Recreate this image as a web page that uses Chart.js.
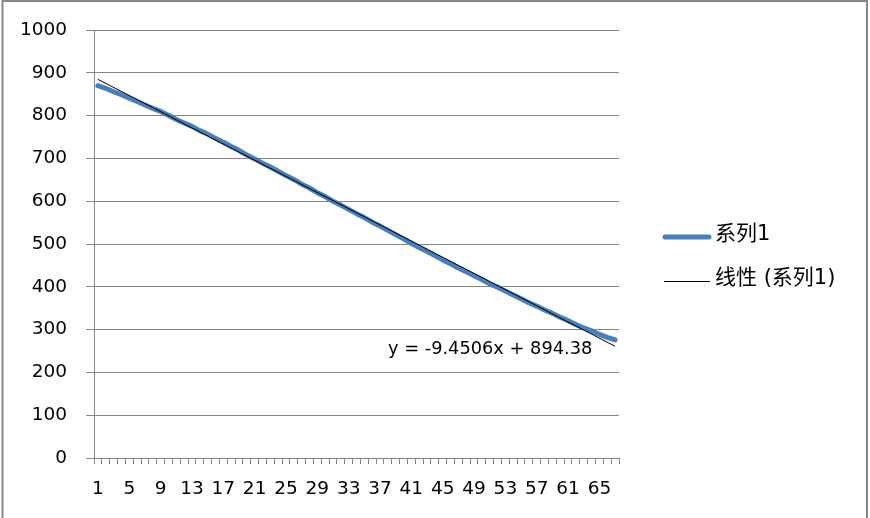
<!DOCTYPE html>
<html>
<head>
<meta charset="utf-8">
<script src="https://cdn.jsdelivr.net/npm/chart.js@4/dist/chart.umd.min.js"></script>
<style>
html,body{margin:0;padding:0;background:#fff;}
#wrap{width:870px;height:518px;position:relative;}
</style>
</head>
<body>
<div id="wrap"><canvas id="c" width="870" height="518"></canvas></div>
<script>
// Categories 1..67
const categories = ["1","2","3","4","5","6","7","8","9","10","11","12","13","14","15","16","17","18","19","20",
"21","22","23","24","25","26","27","28","29","30","31","32","33","34","35","36","37","38","39","40",
"41","42","43","44","45","46","47","48","49","50","51","52","53","54","55","56","57","58","59","60",
"61","62","63","64","65","66","67"];
// 系列1 values
const series1 = [870,864,856,849,841,833,825,817,810,801,
791,783,775,765,757,747,738,728,719,708,
699,689,680,670,660,651,640,631,620,611,
600,591,581,571,562,551,542,532,522,512,
502,492,483,473,463,454,444,435,426,417,
407,399,390,381,372,363,355,346,338,329,
321,312,304,297,289,282,276];
// Linear trendline end values (y = -9.4506x + 894.38 at x=1 and x=67)
const trendX = ["1","67"];
const trendY = [884.93, 261.19];
const yTicks = [0,100,200,300,400,500,600,700,800,900,1000];
const seriesName = "系列1";
const trendName = "线性 (系列1)";
const equationText = "y = -9.4506x + 894.38";

const FONT = "'DejaVu Sans', 'Noto Sans CJK SC', sans-serif";
const GRID = "#868686";
const BLUE = "#4A7EBB";

const overlay = {
  id: "overlay",
  beforeDraw(chart) {
    const ctx = chart.ctx;
    ctx.save();
    ctx.fillStyle = "#fff";
    ctx.fillRect(0, 0, chart.width, chart.height);
    ctx.restore();
  },
  afterDraw(chart) {
    const ctx = chart.ctx;
    ctx.save();
    // frame
    ctx.strokeStyle = GRID;
    ctx.lineWidth = 2;
    ctx.beginPath();
    ctx.moveTo(2.5, 518); ctx.lineTo(2.5, 1); ctx.lineTo(867, 1); ctx.lineTo(867, 518);
    ctx.stroke();
    // legend
    ctx.lineCap = "round";
    ctx.strokeStyle = BLUE; ctx.lineWidth = 5;
    ctx.beginPath(); ctx.moveTo(665, 237); ctx.lineTo(709, 237); ctx.stroke();
    ctx.lineCap = "butt";
    ctx.strokeStyle = "#000"; ctx.lineWidth = 1;
    ctx.beginPath(); ctx.moveTo(664, 281.5); ctx.lineTo(710, 281.5); ctx.stroke();
    ctx.fillStyle = "#000";
    ctx.font = "21px " + FONT;
    ctx.textBaseline = "middle";
    ctx.textAlign = "left";
    ctx.fillText(seriesName, 715, 235);
    ctx.fillText(trendName, 715, 279);
    // equation
    ctx.font = "17.8px " + FONT;
    ctx.fillText(equationText, 388, 349);
    ctx.restore();
  }
};

new Chart(document.getElementById("c"), {
  type: "line",
  data: {
    labels: categories,
    datasets: [
      {
        label: trendName,
        data: trendX.map((x, i) => ({x: x, y: trendY[i]})),
        borderColor: "#000",
        borderWidth: 1,
        pointRadius: 0,
        tension: 0,
        order: 0
      },
      {
        label: seriesName,
        data: series1,
        borderColor: BLUE,
        borderWidth: 5,
        pointRadius: 0,
        tension: 0,
        borderCapStyle: "round",
        borderJoinStyle: "round",
        order: 1
      }
    ]
  },
  options: {
    responsive: false,
    animation: false,
    devicePixelRatio: 1,
    layout: { padding: { top: 27, right: 251, left: 0, bottom: 0 } },
    plugins: { legend: { display: false }, tooltip: { enabled: false } },
    scales: {
      x: {
        type: "category",
        offset: true,
        grid: { display: true, drawOnChartArea: false, drawTicks: true, tickLength: 6, offset: true, color: GRID },
        border: { display: true, color: GRID, width: 1 },
        ticks: {
          autoSkip: false,
          maxRotation: 0,
          minRotation: 0,
          color: "#000",
          font: { family: FONT, size: 18.5 },
          padding: 14,
          callback: function(v, i) { return (i % 4 === 0) ? categories[i] : ""; }
        },
        afterFit: function(s) { s.height = 60; }
      },
      y: {
        min: 0, max: 1000,
        afterBuildTicks: function(s) { s.ticks = yTicks.map(v => ({value: v})); },
        grid: { color: GRID, lineWidth: 1, drawTicks: true, tickLength: 8 },
        border: { display: true, color: GRID, width: 1 },
        ticks: { color: "#000", font: { family: FONT, size: 18.5 }, padding: 19,
          callback: function(v) { return String(v); } },
        afterFit: function(s) { s.width = 94; }
      }
    }
  },
  plugins: [overlay]
});
</script>
</body>
</html>
